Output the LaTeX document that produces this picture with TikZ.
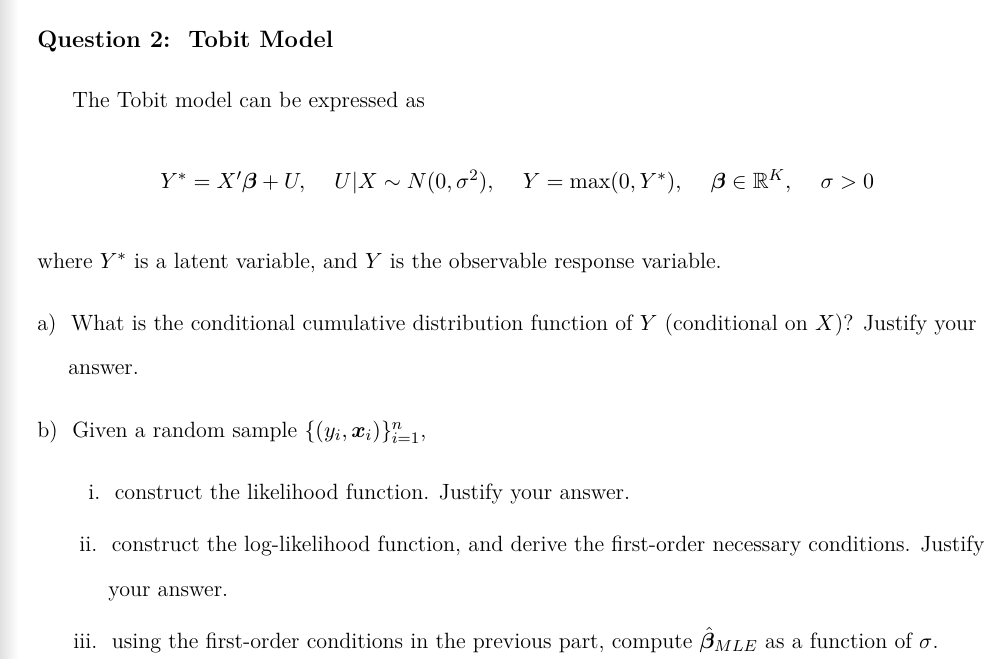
\documentclass[tikz,border=0pt]{standalone}
\usepackage{amsmath,amssymb,bm}
\begin{document}
\begin{tikzpicture}[x=0.5pt,y=-0.5pt,
  txt/.style={anchor=base west,inner sep=0pt,font=\fontsize{11.05}{13}\selectfont}]
\useasboundingbox (0,0) rectangle (989,658);
\fill[white] (0,0) rectangle (989,658);
\shade[left color=black!12,right color=white] (0,0) rectangle (18,658);
\node[txt,font=\fontsize{11.85}{14}\selectfont\bfseries] (t) at (37,48) {Question 2:\ \ Tobit Model};
\node[txt] (l1) at (72,107) {The Tobit model can be expressed as};
\node[txt] (eq) at (160,188) {$Y^{*}=X'\bm{\beta}+U,\quad\, U|X\sim N(0,\sigma^{2}),\quad\, Y=\max(0,Y^{*}),\quad\, \bm{\beta}\in\mathbb{R}^{K},\quad\, \sigma>0$};
\node[txt] (l2) at (37,268) {where $Y^{*}$ is a latent variable, and $Y$ is the observable response variable.};
\node[txt] (a) at (37,330) {a)\ \ What is the conditional cumulative distribution function of $Y$ (conditional on $X$)? Justify your};
\node[txt] (a2) at (68,374) {answer.};
\node[txt] (b) at (37,437) {b)\ \ Given a random sample $\{(y_i,\bm{x}_i)\}_{i=1}^{n}$,};
\node[txt] (b1) at (88,499) {i.\ \ construct the likelihood function. Justify your answer.};
\node[txt] (b2) at (79,551) {ii.\ \ construct the log-likelihood function, and derive the first-order necessary conditions. Justify};
\node[txt] (b2b) at (108,596) {your answer.};
\node[txt] (b3) at (73,648) {iii.\ \ using the first-order conditions in the previous part, compute $\hat{\bm{\beta}}_{MLE}$ as a function of $\sigma$.};
\end{tikzpicture}
\end{document}
